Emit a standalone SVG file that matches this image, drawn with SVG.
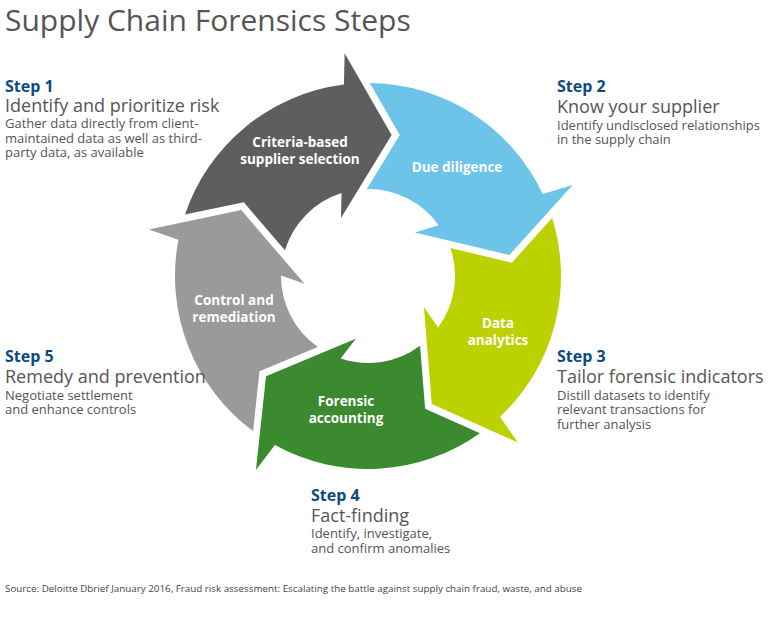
<svg xmlns="http://www.w3.org/2000/svg" width="768" height="623" viewBox="0 0 768 623">
<defs>
<style>
text{font-family:"Open Sans","Liberation Sans",Arial,sans-serif}
.title{font-size:30px;fill:#555}
.step{font-size:16px;font-weight:700;fill:#0e4a80}
.sub{font-size:18px;fill:#555}
.desc{font-size:13px;fill:#555}
.lbl{font-size:13.5px;font-weight:700;fill:#fff;text-anchor:middle}
.src{font-size:9.5px;fill:#444}
</style>
<path id="seg" d="M 1.84,-193.0 A 193 193 0 0 1 174.69,-82.07 L 204.7,-91.1 L 141.4,-21.1 L 46.8,-43.6 L 70.65,-50.78 A 87 87 0 0 0 -1.13,-87.0 L 31.75,-140.9 Z"/>
</defs>
<rect width="768" height="623" fill="#fff"/>
<text class="title" x="5" y="31">Supply Chain Forensics Steps</text>

<g id="connectors"></g>

<g id="node-criteria">
<use href="#seg" fill="#5e5e5e" transform="translate(368,276) rotate(-72)"/>
<text class="lbl" x="300" y="147">Criteria-based</text>
<text class="lbl" x="300" y="164">supplier selection</text>
</g>
<g id="node-due-diligence">
<use href="#seg" fill="#6cc5e8" transform="translate(368,276)"/>
<text class="lbl" x="457" y="172">Due diligence</text>
</g>
<g id="node-data-analytics">
<use href="#seg" fill="#bcd100" transform="translate(368,276) rotate(72)"/>
<text class="lbl" x="498" y="328">Data</text>
<text class="lbl" x="498" y="345">analytics</text>
</g>
<g id="node-forensic-accounting">
<use href="#seg" fill="#3b8a30" transform="translate(368,276) rotate(144)"/>
<text class="lbl" x="346" y="406">Forensic</text>
<text class="lbl" x="346" y="423">accounting</text>
</g>
<g id="node-control">
<use href="#seg" fill="#9a9a9a" transform="translate(368,276) rotate(216)"/>
<text class="lbl" x="234" y="305">Control and</text>
<text class="lbl" x="234" y="322">remediation</text>
</g>

<g id="step1">
<text class="step" x="5" y="92">Step 1</text>
<text class="sub" x="5" y="112">Identify and prioritize risk</text>
<text class="desc" x="5" y="128">Gather data directly from client-</text>
<text class="desc" x="5" y="142.5">maintained data as well as third-</text>
<text class="desc" x="5" y="157">party data, as available</text>
</g>
<g id="step2">
<text class="step" x="557" y="92">Step 2</text>
<text class="sub" x="557" y="113">Know your supplier</text>
<text class="desc" x="557" y="129.5">Identify undisclosed relationships</text>
<text class="desc" x="557" y="144">in the supply chain</text>
</g>
<g id="step3">
<text class="step" x="557" y="361.5">Step 3</text>
<text class="sub" x="557" y="383">Tailor forensic indicators</text>
<text class="desc" x="557" y="399.5">Distill datasets to identify</text>
<text class="desc" x="557" y="414">relevant transactions for</text>
<text class="desc" x="557" y="428.5">further analysis</text>
</g>
<g id="step4">
<text class="step" x="311" y="500.5">Step 4</text>
<text class="sub" x="311" y="521.5">Fact-finding</text>
<text class="desc" x="311" y="538">Identify, investigate,</text>
<text class="desc" x="311" y="552.5">and confirm anomalies</text>
</g>
<g id="step5">
<text class="step" x="5" y="361.5">Step 5</text>
<text class="sub" x="5" y="383">Remedy and prevention</text>
<text class="desc" x="5" y="399.5">Negotiate settlement</text>
<text class="desc" x="5" y="414">and enhance controls</text>
</g>

<text class="src" x="5" y="592" textLength="577" lengthAdjust="spacingAndGlyphs">Source: Deloitte Dbrief January 2016, Fraud risk assessment: Escalating the battle against supply chain fraud, waste, and abuse</text>
</svg>
